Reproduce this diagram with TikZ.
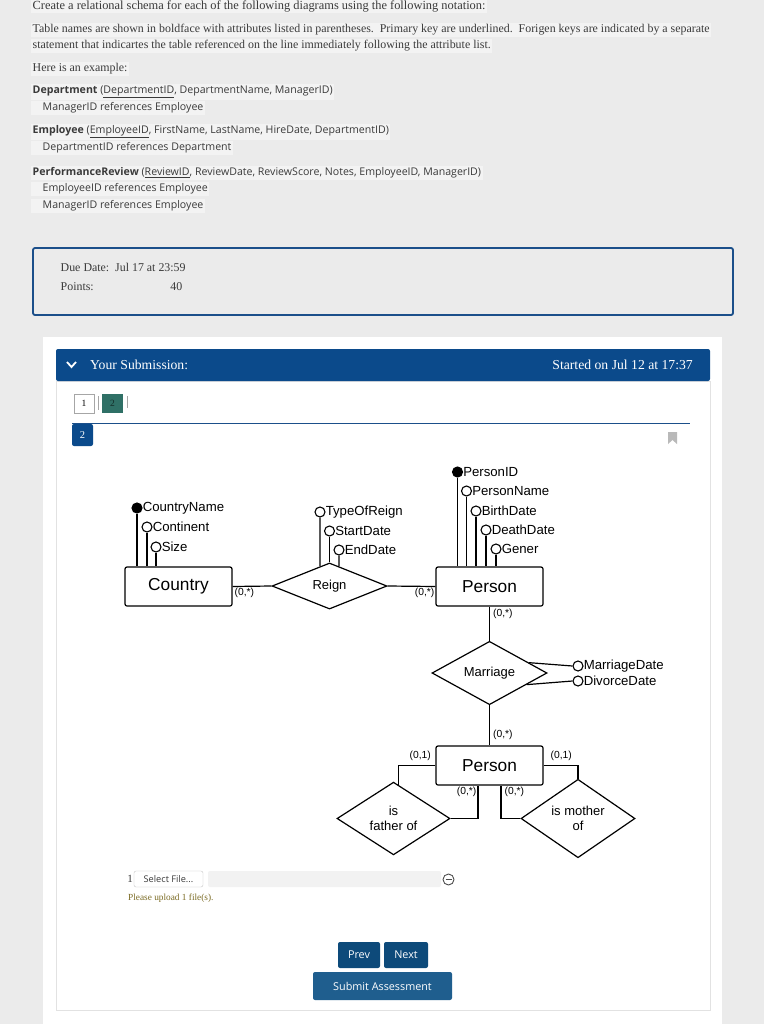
\documentclass[tikz,border=0pt]{standalone}
\usepackage{fontspec}
\setmainfont{Liberation Serif}
\newfontfamily\osans{Open Sans}
\newfontfamily\arial{Liberation Sans}
\usetikzlibrary{shapes.geometric,calc}
\definecolor{pagebg}{HTML}{EBEBEB}
\definecolor{hl}{HTML}{F3F3F3}
\definecolor{txtgray}{HTML}{3A3A3A}
\definecolor{hdrblue}{HTML}{0B4A8B}
\definecolor{boxblue}{HTML}{1B4F8A}
\definecolor{teal}{HTML}{2F7066}
\definecolor{btnblue}{HTML}{0D4A7A}
\definecolor{subblue}{HTML}{1F5E8E}
\definecolor{olive}{HTML}{7B6B24}
\definecolor{lightline}{HTML}{E2E2E2}
\tikzset{
  serif/.style={font=\fontsize{11.9}{14}\selectfont, inner sep=1.5pt, anchor=west, text=txtgray, fill=hl},
  sch/.style={font=\osans\fontsize{10.6}{12}\selectfont, inner sep=1.5pt, anchor=west, text=txtgray, fill=hl},
  ent/.style={draw, rounded corners=2pt, minimum width=107pt, minimum height=39pt, line width=1.2pt, font=\arial\fontsize{17.3}{19}\selectfont, inner sep=0pt, fill=white},
  rel/.style={draw, diamond, minimum width=115pt, minimum height=46pt, line width=1.2pt, inner sep=0pt, font=\arial\fontsize{13}{15.5}\selectfont, align=center, fill=white},
  att/.style={draw, circle, minimum size=10pt, inner sep=0pt, line width=1.1pt, fill=white, label distance=3.5pt, label={[attlab]right:#1}},
  keyatt/.style={att=#1, fill=black},
  attlab/.style={font=\arial\fontsize{13.2}{15}\selectfont, inner sep=0pt},
  card/.style={font=\arial\fontsize{10.3}{12}\selectfont, inner sep=0pt},
  conn/.style={line width=1.2pt},
  btn/.style={fill=btnblue, rounded corners=2pt, text=white, font=\osans\fontsize{10.8}{12}\selectfont, inner sep=0pt, minimum height=26pt},
}
\begin{document}
\begin{tikzpicture}[x=1pt,y=-1pt]
\useasboundingbox (0,0) rectangle (764,1024);
\fill[pagebg] (0,0) rectangle (764,1024);

% ---- instructions
\node[serif, font=\fontsize{12.4}{14}\selectfont] (t1) at (31,6) {Create a relational schema for each of the following diagrams using the following notation:};
\node[serif] (t2) at (31,30) {Table names are shown in boldface with attributes listed in parentheses.\ \ Primary key are underlined.\ \ Forigen keys are indicated by a separate};
\node[serif] (t3) at (31,46) {statement that indicartes the table referenced on the line immediately following the attribute list.};
\node[serif] (t4) at (31,69) {Here is an example:};
\node[sch] (s1) at (31,92) {\textbf{Department} (\underline{DepartmentID}, DepartmentName, ManagerID)};
\node[sch] (s1a) at (31,108) {\hspace*{10pt}ManagerID references Employee};
\node[sch] (s2) at (31,132) {\textbf{Employee} (\underline{EmployeeID}, FirstName, LastName, HireDate, DepartmentID)};
\node[sch] (s2a) at (31,148) {\hspace*{10pt}DepartmentID references Department};
\node[sch] (s3) at (31,173) {\textbf{PerformanceReview} (\underline{ReviewID}, ReviewDate, ReviewScore, Notes, EmployeeID, ManagerID)};
\node[sch] (s3a) at (31,189) {\hspace*{10pt}EmployeeID references Employee};
\node[sch] (s3b) at (31,206) {\hspace*{10pt}ManagerID references Employee};

% ---- due box
\draw[boxblue, line width=1.8pt, rounded corners=2pt] (33,248) rectangle (733,315);
\node[serif, fill=none] (due) at (59,267) {Due Date:\ \ Jul 17 at 23:59};
\node[serif, fill=none] (pts) at (59,287) {Points:};
\node[serif, fill=none, anchor=east] (pv) at (184,287) {40};

% ---- white panel
\fill[white] (43,337) rectangle (722,1024);
\draw[lightline, line width=0.8pt] (56,381) rectangle (710,1010);
\fill[hdrblue, rounded corners=2pt] (56,349) rectangle (710,381);
\draw[white, line width=1.8pt] (67,362) -- (71.5,367) -- (76,362);
\node[font=\fontsize{13.7}{15}\selectfont, text=white, anchor=west, inner sep=0pt] (ys) at (90,365) {Your Submission:};
\node[font=\fontsize{13.7}{15}\selectfont, text=white, anchor=east, inner sep=0pt] (st) at (693,365) {Started on Jul 12 at 17:37};

% tabs
\node[draw=gray!70, fill=white, minimum width=20pt, minimum height=19pt, inner sep=0pt, font=\fontsize{9.5}{10}\selectfont] (tab1) at (84,403.5) {1};
\draw[gray!70, line width=0.6pt] (98,396) -- (98,410);
\node[fill=teal, minimum width=21pt, minimum height=19pt, inner sep=0pt, font=\fontsize{9.5}{10}\selectfont, text=black!60!teal] (tab2) at (112.5,403.5) {2};
\draw[gray!70, line width=0.6pt] (127,396) -- (127,408);
\draw[boxblue, line width=1.3pt] (72,423.5) -- (690,423.5);
\node[fill=hdrblue, rounded corners=2pt, minimum width=21pt, minimum height=22pt, inner sep=0pt, text=white, font=\fontsize{10.5}{12}\selectfont] (badge) at (82.5,435) {2};
\fill[gray!55] (668,432) -- (677,432) -- (677,444) -- (672.5,440) -- (668,444) -- cycle;

% ---- ER diagram
\node[ent] (country) at (178.5,586.5) {Country};
\node[rel] (reign) at (329.5,586) {Reign};
\node[ent] (p1) at (489.5,586.5) {Person};
\node[rel, minimum height=44pt] (mar) at (489.5,673) {Marriage};
\node[ent] (p2) at (489.5,765.5) {Person};
\node[rel, minimum width=113pt, minimum height=47pt] (fat) at (393.5,818.5) {is\\father of};
\node[rel, minimum width=114pt, minimum height=47pt] (mot) at (578,818.5) {is mother\\of};

% attributes
\node[keyatt=CountryName] (cn) at (137,508) {};
\node[att=Continent] (co) at (147,527) {};
\node[att=Size] (sz) at (156,547) {};
\draw[conn] (cn.south) -- (cn.south |- country.north);
\draw[conn] (co.south) -- (co.south |- country.north);
\draw[conn] (sz.south) -- (sz.south |- country.north);

\node[att=TypeOfReign] (tr) at (320,512) {};
\node[att=StartDate] (sd) at (329.5,531) {};
\node[att=EndDate] (ed) at (339,550) {};
\draw[conn] (tr.south) -- ($(reign.north)!0.165!(reign.west)$);
\draw[conn] (sd.south) -- (reign.north);
\draw[conn] (ed.south) -- ($(reign.north)!0.165!(reign.east)$);

\node[keyatt=PersonID] (pid) at (457.5,472) {};
\node[att=PersonName] (pn) at (466.5,491) {};
\node[att=BirthDate] (bd) at (476,511) {};
\node[att=DeathDate] (dd) at (486,530) {};
\node[att=Gener] (ge) at (496,549) {};
\foreach \a in {pid,pn,bd,dd,ge} \draw[conn] (\a.south) -- (\a.south |- p1.north);

\node[att=MarriageDate] (md) at (578,666) {};
\node[att=DivorceDate] (dv) at (578,681) {};
\draw[conn] ($(mar.east)!0.32!(mar.north)$) -- (md.west);
\draw[conn] ($(mar.east)!0.36!(mar.south)$) -- (dv.west);

% relationships
\draw[conn] (country.east) -- (reign.west);
\draw[conn] (reign.east) -- (p1.west);
\draw[conn] (p1.south) -- (mar.north);
\draw[conn] (mar.south) -- (p2.north);
\draw[conn] (p2.west) -| ($(fat.north)!0.09!(fat.east)$);
\draw[conn] (fat.east) -| ($(p2.south)+(-11.5,0)$);
\draw[conn] (p2.east) -| (mot.north);
\draw[conn] (mot.west) -| ($(p2.south)+(11.5,0)$);

% cardinalities
\node[card, anchor=west] (c1) at (234.5,593) {(0,*)};
\node[card, anchor=east] (c2) at (434.5,593) {(0,*)};
\node[card, anchor=west] (c3) at (493,614) {(0,*)};
\node[card, anchor=west] (c4) at (493,735) {(0,*)};
\node[card, anchor=east] (c5) at (431,756) {(0,1)};
\node[card, anchor=west] (c6) at (550.5,756) {(0,1)};
\node[card, anchor=east] (c7) at (476.5,792) {(0,*)};
\node[card, anchor=west] (c8) at (504.5,792) {(0,*)};

% ---- upload row
\node[font=\fontsize{11}{12}\selectfont, inner sep=0pt, text=txtgray] (num) at (130,879) {1};
\node[draw=gray!45, fill=white, rounded corners=2pt, minimum width=69pt, minimum height=16pt, inner sep=0pt, font=\osans\fontsize{9.2}{10}\selectfont, text=txtgray] (sel) at (168.5,879) {Select File...};
\fill[black!5, rounded corners=2pt] (208,871) rectangle (441,887);
\draw[black!70, line width=0.9pt] (448.5,879.5) circle (5.5pt);
\draw[black!70, line width=1.2pt] (445.5,879.5) -- (451.5,879.5);
\node[font=\fontsize{9.3}{10}\selectfont, text=olive, anchor=west, inner sep=0pt] (pl) at (128,898) {Please upload 1 file(s).};

% ---- buttons
\node[btn, minimum width=42pt] (prev) at (359,955) {Prev};
\node[btn, minimum width=44pt] (next) at (406,955) {Next};
\node[btn, fill=subblue, minimum width=139pt, minimum height=28pt] (sub) at (382.5,986) {Submit Assessment};
\end{tikzpicture}
\end{document}
